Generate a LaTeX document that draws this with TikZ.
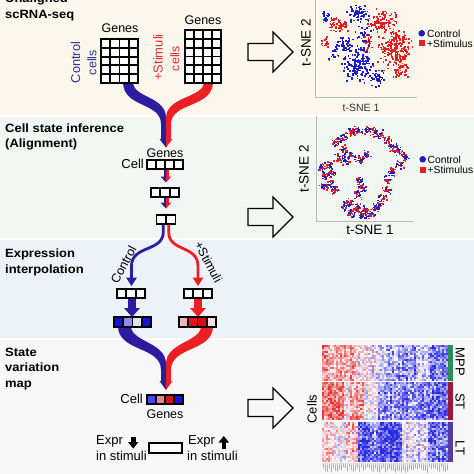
\documentclass[tikz,border=0pt]{standalone}
\usepackage{fontspec}
\setmainfont{Liberation Sans}
\newfontfamily\titlefont{Liberation Sans}[FakeStretch=1.08]
\definecolor{bandA}{RGB}{252,247,237}
\definecolor{bandB}{RGB}{243,247,243}
\definecolor{bandC}{RGB}{237,242,248}
\definecolor{bandD}{RGB}{247,247,248}
\definecolor{tubeblue}{RGB}{46,28,160}
\definecolor{tubered}{RGB}{236,32,36}
\definecolor{txtblue}{RGB}{48,48,150}
\definecolor{txtred}{RGB}{232,40,50}
\definecolor{dotblue}{RGB}{30,30,200}
\definecolor{dotred}{RGB}{230,30,30}
\definecolor{hblue}{RGB}{30,30,228}
\definecolor{hred}{RGB}{228,40,40}
\definecolor{barG}{RGB}{46,139,87}
\definecolor{barR}{RGB}{155,25,55}
\definecolor{barP}{RGB}{85,60,160}
\newcommand\fs[1]{\fontsize{#1}{#1}\selectfont}
\tikzset{
  boxnode/.style={draw, line width=1.9, inner sep=0, outer sep=0},
  boxline/.style={line width=1.9},
  title/.style={font=\titlefont\bfseries\fs{12}, anchor=base west, inner sep=0},
  lbl/.style={font=\fs{12.5}, inner sep=0},
  bigarrow/.style={draw=black, line width=1.3, line join=miter},
  axisline/.style={draw=black!28, line width=0.8},
}
% row of boxes
\newcommand\boxrow[6]{%
  \node[boxnode, minimum width={(#4)-(#2)}, minimum height={(#5)-(#3)}, anchor=north west] (#1) at (#2,#3) {};
  \pgfmathtruncatemacro\brn{#6-1}%
  \ifnum\brn>0
    \foreach \k in {1,...,\brn}{\draw[boxline] ({#2+\k*((#4)-(#2))/#6},#3) -- ({#2+\k*((#4)-(#2))/#6},#5);}%
  \fi}
% grid of cells
\newcommand\cellgrid[7]{%
  \fill[white] (#2,#3) rectangle (#4,#5);
  \node[boxnode, minimum width={(#4)-(#2)}, minimum height={(#5)-(#3)}, anchor=north west] (#1) at (#2,#3) {};
  \pgfmathtruncatemacro\gcn{#6-1}%
  \pgfmathtruncatemacro\grn{#7-1}%
  \foreach \k in {1,...,\gcn}{\draw[boxline] ({#2+\k*((#4)-(#2))/#6},#3) -- ({#2+\k*((#4)-(#2))/#6},#5);}%
  \foreach \k in {1,...,\grn}{\draw[boxline] (#2,{#3+\k*((#5)-(#3))/#7}) -- (#4,{#3+\k*((#5)-(#3))/#7});}%
}
% split blue/red arrow
\newcommand\splitarrow[3]{%
  \fill[tubeblue] ({#1-2.5},#2) rectangle (#1,{#3-5.5});
  \fill[tubered] (#1,#2) rectangle ({#1+2.5},{#3-5.5});
  \fill[tubeblue] ({#1-5.5},{#3-6}) -- (#1,{#3-6}) -- (#1,#3) -- cycle;
  \fill[tubered] ({#1+5.5},{#3-6}) -- (#1,{#3-6}) -- (#1,#3) -- cycle;}
% big hollow arrow
\newcommand\bigarrowat[2]{%
  \draw[bigarrow] (248,{#2-8.5}) -- (273,{#2-8.5}) -- (273,{#2-20}) -- (293,#2) -- (273,{#2+20}) -- (273,{#2+8.5}) -- (248,{#2+8.5}) -- cycle;
  \coordinate (#1) at (293,#2);}
% dot clusters
\newcommand\dotcl[6]{%
  \foreach \q in {1,...,#6}{\fill[#1] ({#2+#4*(rand+rand)-0.85},{#3+#5*(rand+rand)-0.85}) rectangle ++(1.7,1.7);}}
% heatmap block
\newcommand\hmblock[3]{%
  \foreach \xa/\xb/\mm in {#3}{%
    \pgfmathtruncatemacro\hmnc{(\xb-\xa)/2-1}%
    \foreach \i in {0,...,\hmnc}{%
      \pgfmathsetmacro\hmc{\mm+0.2*rand}%
      \foreach \j in {0,...,#2}{%
        \pgfmathsetmacro\hmv{max(-1,min(1,\hmc+0.45*rand))}%
        \pgfmathtruncatemacro\hmp{abs(\hmv)*95}%
        \ifdim\hmv pt>0pt\def\hmcol{hred}\else\def\hmcol{hblue}\fi
        \fill[\hmcol!\hmp!white] ({\xa+2*\i},{#1+2*\j}) rectangle ++(2.03,2.03);
      }}}}
\begin{document}
\begin{tikzpicture}[x=1pt,y=-1pt]
\useasboundingbox (0,0) rectangle (474,474);
\clip (0,0) rectangle (474,474);
\pgfmathsetseed{7}
% backgrounds
\fill[white] (0,0) rectangle (474,474);
\fill[bandA] (0,0) rectangle (474,115);
\fill[bandB] (0,117) rectangle (474,238);
\fill[bandC] (0,240) rectangle (474,338);
\fill[bandD] (0,340) rectangle (474,474);

% titles
\node[title] (t0) at (5,2.5) {Unaligned};
\node[title] (t1) at (5,18) {scRNA-seq};
\node[title] (t2) at (5,132) {Cell state inference};
\node[title] (t3) at (5,147.5) {(Alignment)};
\node[title] (t4) at (5,257) {Expression};
\node[title] (t5) at (5,273) {interpolation};
\node[title] (t6) at (5,356) {State};
\node[title] (t7) at (5,371.5) {variation};
\node[title] (t8) at (5,387) {map};

% ---- band 1
\node[lbl, anchor=base] (gl1) at (120,32) {Genes};
\node[lbl, anchor=base] (gl2) at (203,24) {Genes};
\node[lbl, rotate=90, text=txtblue, font=\fs{12.8}] (ctl1) at (75.5,62.5) {Control};
\node[lbl, rotate=90, text=txtblue] (cel1) at (92,62.5) {cells};
\node[lbl, rotate=90, text=txtred, font=\fs{13}] (st1) at (158,57.5) {+Stimuli};
\node[lbl, rotate=90, text=txtred] (cel2) at (175,58.5) {cells};

% tubes top
\fill[tubeblue] (123,82) .. controls (123,108) and (161,102) .. (161,124) -- (161,139.5) -- (166,139.5) -- (166,118) .. controls (166,96) and (133,98) .. (133,82) -- cycle;
\fill[tubered] (213,82) .. controls (213,108) and (171,102) .. (171,124) -- (171,139.5) -- (166,139.5) -- (166,118) .. controls (166,96) and (204,98) .. (204,82) -- cycle;
\fill[tubeblue] (159.5,139) -- (166,139) -- (166,147.5) -- cycle;
\fill[tubered] (172.5,139) -- (166,139) -- (166,147.5) -- cycle;

\cellgrid{gc}{101}{39}{138}{83}{4}{5}
\cellgrid{gs}{185}{30}{221}{83}{4}{6}

% ---- band 2
\node[lbl, anchor=base] (gr1) at (165,157) {Genes};
\node[lbl, anchor=base east, font=\fs{13}] (cr1) at (144,168) {Cell};
\fill[white] (147,160) rectangle (183,169);
\boxrow{r1}{147}{160}{183}{169}{4}
\splitarrow{166}{169.5}{182.5}
\fill[white] (151,188) rectangle (179,197);
\boxrow{r2}{151}{188}{179}{197}{3}
\splitarrow{166}{197.5}{208.5}

% split lines
\draw[tubeblue, line width=2.8] (163.3,222) -- (163.3,232) .. controls (163.3,252) and (131.5,245) .. (131.5,266) -- (131.5,279);
\fill[tubeblue] (126,277.5) -- (137,277.5) -- (131.5,286) -- cycle;
\draw[tubered, line width=2.8] (168.7,222) -- (168.7,232) .. controls (168.7,252) and (198,245) .. (198,266) -- (198,279);
\fill[tubered] (192.5,277.5) -- (203.5,277.5) -- (198,286) -- cycle;
\fill[white] (156.5,215) rectangle (175.5,224);
\boxrow{r3}{156.5}{215}{175.5}{224}{2}

% ---- band 3
\node[lbl, rotate=62] (ctl2) at (123.5,264.5) {Control};
\node[lbl, rotate=-62] (st2) at (208.5,262) {+Stimuli};
\fill[white] (117,289) rectangle (145,298);
\boxrow{r4b}{117}{289}{145}{298}{3}
\fill[white] (184,289) rectangle (212,298);
\boxrow{r4r}{184}{289}{212}{298}{3}
% thick arrows
\fill[tubeblue] (128,299) rectangle (136,309);
\fill[tubeblue] (124,308) -- (140,308) -- (132,317) -- cycle;
\fill[tubered] (194,299) rectangle (202,309);
\fill[tubered] (190,308) -- (206,308) -- (198,317) -- cycle;

% bottom tubes
\fill[tubeblue] (118,326) .. controls (118,352) and (161,346) .. (161,370) -- (161,381.5) -- (166,381.5) -- (166,364) .. controls (166,342) and (131,342) .. (131,326) -- cycle;
\fill[tubered] (213,326) .. controls (213,352) and (171,346) .. (171,370) -- (171,381.5) -- (166,381.5) -- (166,364) .. controls (166,342) and (201,342) .. (201,326) -- cycle;
\fill[tubeblue] (159.5,381) -- (166,381) -- (166,390) -- cycle;
\fill[tubered] (172.5,381) -- (166,381) -- (166,390) -- cycle;

% coloured rows
\foreach \c [count=\k from 0] in {{rgb,255:red,20;green,20;blue,230},{rgb,255:red,140;green,140;blue,235},{rgb,255:red,225;green,225;blue,240},{rgb,255:red,20;green,20;blue,215}}
  \fill[color=\c] ({114+\k*37/4},317) rectangle ({114+(\k+1)*37/4},327);
\boxrow{r5b}{114}{317}{151}{327}{4}
\foreach \c [count=\k from 0] in {{rgb,255:red,240;green,180;blue,185},{rgb,255:red,225;green,20;blue,25},{rgb,255:red,215;green,15;blue,20},{rgb,255:red,245;green,225;blue,228}}
  \fill[color=\c] ({179+\k*37/4},317) rectangle ({179+(\k+1)*37/4},327);
\boxrow{r5r}{179}{317}{216}{327}{4}

% ---- band 4
\foreach \c [count=\k from 0] in {{rgb,255:red,70;green,70;blue,240},{rgb,255:red,240;green,130;blue,130},{rgb,255:red,215;green,20;blue,25},{rgb,255:red,20;green,20;blue,225}}
  \fill[color=\c] ({147+\k*9},395) rectangle ({147+(\k+1)*9},404);
\boxrow{r6}{147}{395}{183}{404}{4}
\node[lbl, anchor=base east, font=\fs{13}] (cr6) at (143,403.5) {Cell};
\node[lbl, anchor=base] (gr6) at (165,418) {Genes};

% legend
\node[lbl, anchor=base west, font=\fs{13}] (ex1) at (96,444) {Expr};
\node[lbl, anchor=base west, font=\fs{13}] (in1) at (96,460) {in stimuli};
\fill[black] (131,437) rectangle (135.5,442.5);
\fill[black] (128,442) -- (138.5,442) -- (133.25,448.5) -- cycle;
\fill[white] (149,443) rectangle (182,453);
\boxrow{lg}{149}{443}{182}{453}{1}
\node[lbl, anchor=base west, font=\fs{13}] (ex2) at (188,444) {Expr};
\node[lbl, anchor=base west, font=\fs{13}] (in2) at (187,460) {in stimuli};
\fill[black] (221.5,442) rectangle (226,448.5);
\fill[black] (218.5,442.5) -- (229,442.5) -- (223.75,436) -- cycle;

% big arrows
\bigarrowat{ba1}{52}
\bigarrowat{ba2}{217}
\bigarrowat{ba3}{408}

% ---- t-SNE 1
\draw[axisline] (315.5,0) -- (315.5,97) -- (417,97);
\begin{scope}
\clip (317,1) rectangle (418,95.5);
\dotcl{dotred}{395}{50}{10}{12}{210}
\dotcl{dotred}{382}{22}{8}{7}{90}
\dotcl{dotred}{340}{25}{6}{4}{55}
\dotcl{dotred}{325}{42}{2.5}{4}{15}
\dotcl{dotred}{400}{72}{5}{4}{30}
\dotcl{dotred}{370}{45}{4}{6}{25}
\dotcl{dotblue}{358}{14}{6}{5}{70}
\dotcl{dotblue}{326}{17}{3.5}{3}{20}
\dotcl{dotblue}{358}{64}{9}{10}{180}
\dotcl{dotblue}{345}{45}{5}{5}{40}
\dotcl{dotblue}{378}{78}{4}{6}{30}
\dotcl{dotblue}{333}{55}{3}{5}{15}
\dotcl{dotblue}{365}{35}{5}{5}{25}
\end{scope}
\node[lbl, rotate=90, font=\fs{13.5}] (ty1) at (306,42.5) {t-SNE 2};
\node[lbl, anchor=base, font=\fs{10.5}, text=black!80] (tx1) at (361,111.5) {t-SNE 1};
\fill[dotblue] (421.7,33.3) circle (3.3);
\node[lbl, anchor=base west, font=\fs{10.3}] (lc1) at (427,37.3) {Control};
\fill[dotred] (419,40) rectangle (425,46);
\node[lbl, anchor=base west, font=\fs{10.3}] (ls1) at (427,47) {+Stimulus};

% ---- t-SNE 2
\draw[axisline] (316,116) -- (316,221) -- (413,221);
\foreach \ax/\ay in {337/142,343/137,350/133,358/131,367/130,374/132,380/135,387/140,393/147,399/152,405/158,
  322/168,326/176,330/184,324/188,332/172,336/190,328/165,
  338/158,345/160,352/156,360/160,367/155,345/150,
  400/165,392/172,388/180,387/190,383/198,378/205,
  360/180,362/188,358/195,
  350/203,358/208,366/210,375/208,352/213,362/215,370/214,345/207}{
  \foreach \q in {1,...,22}{
    \pgfmathsetmacro\dcc{rand}
    \ifdim\dcc pt>0pt\def\dcol{dotred}\else\def\dcol{dotblue}\fi
    \fill[\dcol] ({\ax+2.6*(rand+rand)-0.8},{\ay+2.6*(rand+rand)-0.8}) rectangle ++(1.6,1.6);
  }}
\node[lbl, rotate=90, font=\fs{13.5}] (ty2) at (304,169) {t-SNE 2};
\node[lbl, anchor=base, font=\fs{13.5}] (tx2) at (370,234.5) {t-SNE 1};
\fill[dotblue] (422.7,159.3) circle (3.3);
\node[lbl, anchor=base west, font=\fs{10.3}] (lc2) at (427.5,163.3) {Control};
\fill[dotred] (419.5,166.7) rectangle (425.5,172.7);
\node[lbl, anchor=base west, font=\fs{10.3}] (ls2) at (427.5,173.3) {+Stimulus};

% ---- heatmap
\fill[white] (322,344) rectangle (448,462);
\hmblock{345}{17}{322/356/0.45, 356/372/0.12, 372/386/-0.05, 386/400/-0.35, 400/416/-0.45, 416/430/-0.3, 430/448/-0.62}
\hmblock{382}{18}{322/344/0.65, 344/350/0.15, 350/364/0.5, 364/378/0.0, 378/396/-0.45, 396/416/-0.55, 416/430/-0.6, 430/448/-0.65}
\hmblock{422}{19}{322/334/0.4, 334/346/0.05, 346/358/0.35, 358/370/-0.75, 370/380/-0.6, 380/402/-0.8, 402/428/-0.1, 428/448/-0.55}
\fill[white] (322,381) rectangle (448,382);
\fill[white] (322,420) rectangle (448,422);
\fill[barG] (448,345) rectangle (452.5,381);
\fill[barR] (448,382) rectangle (452.5,420);
\fill[barP] (448,422) rectangle (452.5,462);
\node[lbl, rotate=-90, font=\fs{13}] (hm1) at (460,362) {MPP};
\node[lbl, rotate=-90, font=\fs{13}] (hm2) at (460,401.5) {ST};
\node[lbl, rotate=-90, font=\fs{13}] (hm3) at (460,448) {LT};
\node[lbl, rotate=90, font=\fs{13}] (hmc) at (312,409) {Cells};
\foreach \x in {323,325,...,447}{\draw[black!45, line width=0.5] (\x,463) -- ++(0.8,{4+6*rnd});}
\end{tikzpicture}
\end{document}
